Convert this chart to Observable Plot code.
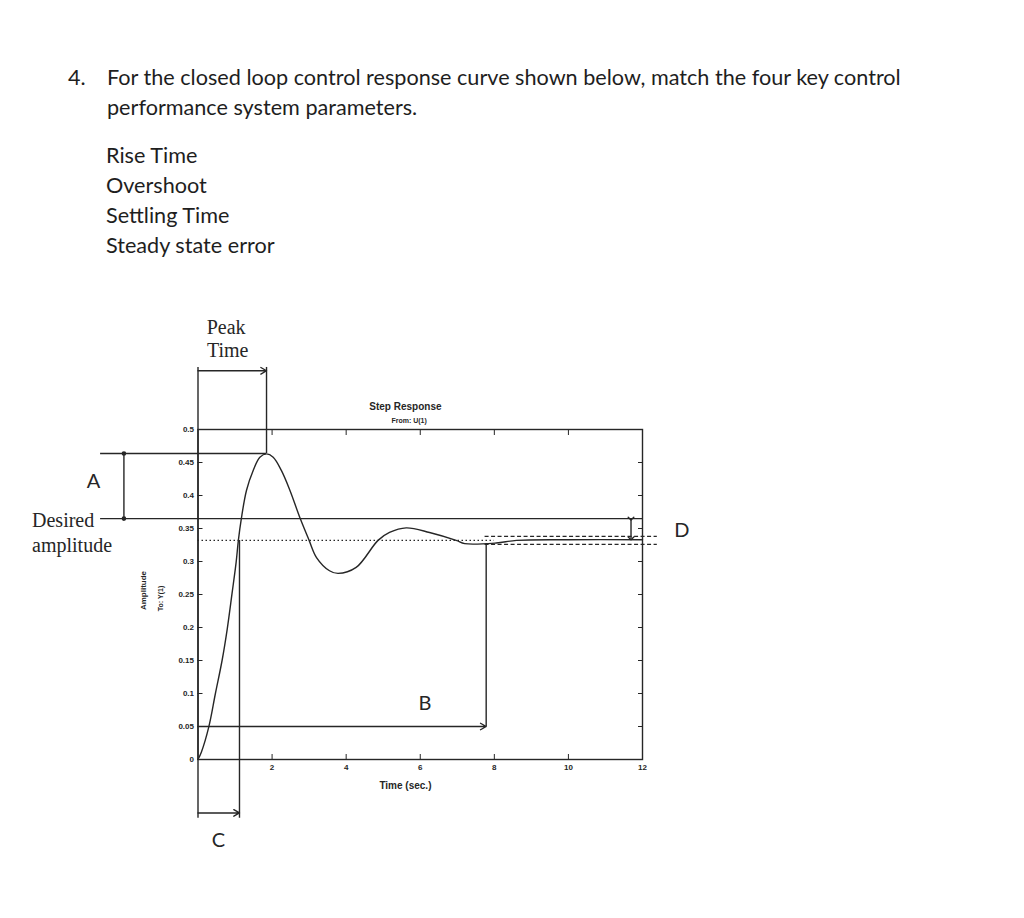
<!DOCTYPE html>
<html><head><meta charset="utf-8">
<script src="https://cdn.jsdelivr.net/npm/d3@7"></script>
<script src="https://cdn.jsdelivr.net/npm/@observablehq/plot@0.6"></script>
<style>
body{margin:0;background:#fff;}
#head{position:relative;width:1024px;height:290px;font-family:Lato,"Open Sans",sans-serif;color:#1e1e1e;}
#head div{position:absolute;white-space:nowrap;line-height:30px;}
#chart svg{display:block;}
</style></head><body>
<div id="head"></div>
<div id="chart"></div>
<script>
// ---- text content ----
const questionNumber = "4.";
const questionLines = [
  "For the closed loop control response curve shown below, match the four key control",
  "performance system parameters."
];
const parameterNames = ["Rise Time", "Overshoot", "Settling Time", "Steady state error"];

// ---- step response ----
const responseTime = [0, 0.09, 0.29, 0.47, 0.65, 0.79, 0.92, 1.03, 1.09, 1.17, 1.31, 1.49, 1.67, 1.85, 2.03, 2.25, 2.48, 2.76, 3.0, 3.2, 3.55, 3.78, 4.27, 4.86, 5.17, 5.62, 6.25, 6.97, 7.2, 8.05, 8.6, 10, 12];
const responseAmplitude = [0, 0.011, 0.049, 0.1, 0.15, 0.198, 0.252, 0.299, 0.332, 0.365, 0.408, 0.438, 0.458, 0.463, 0.458, 0.438, 0.408, 0.365, 0.332, 0.306, 0.286, 0.282, 0.291, 0.332, 0.344, 0.351, 0.344, 0.332, 0.327, 0.328, 0.332, 0.333, 0.333];

// ---- axis ticks ----
const yTicks = [0, 0.05, 0.1, 0.15, 0.2, 0.25, 0.3, 0.35, 0.4, 0.45, 0.5];
const yTickLabels = ["0", "0.05", "0.1", "0.15", "0.2", "0.25", "0.3", "0.35", "0.4", "0.45", "0.5"];
const xTicks = [2, 4, 6, 8, 10, 12];
const xTickLabels = ["2", "4", "6", "8", "10", "12"];

// ---- key values of the response ----
const peakTime = 1.85, peakValue = 0.4636;
const desiredValue = 0.365;
const steadyValue = 0.332;
const riseTime = 1.12;
const settlingTime = 7.78;
const bandUpper = 0.338, bandLower = 0.326;

// ---- labels ----
const titleText = "Step Response", subtitleText = "From: U(1)";
const xLabel = "Time (sec.)", yLabel = "Amplitude", yLabel2 = "To: Y(1)";

// ---------- header (HTML) ----------
const head = document.getElementById("head");
const ctx = document.createElement("canvas").getContext("2d");
ctx.font = "20px Lato";
const fs = 20 * 796 / ctx.measureText(questionLines[0]).width;
function addLine(txt, left, baseline) {
  const d = document.createElement("div");
  d.textContent = txt;
  d.style.fontSize = fs + "px";
  const top = baseline - ((30 - fs * 1.2) / 2 + fs * 0.987);
  d.style.left = left + "px";
  d.style.top = top + "px";
  head.appendChild(d);
}
addLine(questionNumber, 68, 85);
questionLines.forEach((t, i) => addLine(t, 107, 85 + 30 * i));
parameterNames.forEach((t, i) => addLine(t, 106, 163 + 30 * i));

// ---------- chart ----------
const response = responseTime.map((t, i) => ({t, v: responseAmplitude[i]}));
const ink = "#262626";
const serif = "Liberation Serif, DejaVu Serif, serif";
const sans = "Lato, Open Sans, sans-serif";
const tiny = "Liberation Sans, Arial, sans-serif";
const one = [0];

const chart = Plot.plot({
  width: 1024,
  height: 628,
  marginLeft: 197.5,
  marginRight: 382,
  marginTop: 139,
  marginBottom: 159,
  x: {domain: [0, 12], axis: null},
  y: {domain: [0, 0.5], axis: null},
  style: {background: "white", color: ink},
  marks: [
    Plot.frame({stroke: ink, strokeWidth: 1.4}),
    // axes (inward ticks)
    Plot.axisY(yTicks, {anchor: "left", tickSize: -5, tickPadding: 9, label: null, stroke: ink,
      tickFormat: d => yTickLabels[yTicks.indexOf(d)], fontSize: 8, fontWeight: "bold", fontFamily: tiny, fill: ink}),
    Plot.axisY(yTicks, {anchor: "right", tickSize: -5, label: null, stroke: ink, tickFormat: () => ""}),
    Plot.axisX(xTicks, {anchor: "bottom", tickSize: -5, tickPadding: 10, label: null, stroke: ink,
      tickFormat: d => xTickLabels[xTicks.indexOf(d)], fontSize: 8, fontWeight: "bold", fontFamily: tiny, fill: ink}),
    Plot.axisX(xTicks, {anchor: "top", tickSize: -5, label: null, stroke: ink, tickFormat: () => ""}),
    // titles / axis labels
    Plot.text(one, {x: 5.6, y: 0.535, text: () => titleText, fontSize: 10, fontWeight: "bold", fontFamily: tiny, fill: ink}),
    Plot.text(one, {x: 5.7, y: 0.514, text: () => subtitleText, fontSize: 7, fontWeight: "bold", fontFamily: tiny, fill: ink}),
    Plot.text(one, {x: 5.6, y: -0.0394, text: () => xLabel, fontSize: 10, fontWeight: "bold", fontFamily: tiny, fill: ink}),
    Plot.text(one, {x: -1.47, y: 0.256, text: () => yLabel, rotate: -90, fontSize: 8, fontWeight: "bold", fontFamily: tiny, fill: ink}),
    Plot.text(one, {x: -1.01, y: 0.244, text: () => yLabel2, rotate: -90, fontSize: 7, fontWeight: "bold", fontFamily: tiny, fill: ink}),
    // reference lines
    Plot.ruleY([steadyValue], {x1: 0, x2: 8.0, stroke: ink, strokeDasharray: "1.5,2.5", strokeWidth: 1.2}),
    Plot.ruleY([bandUpper, bandLower], {x1: 7.75, x2: 12.4, stroke: ink, strokeDasharray: "4,2.5", strokeWidth: 1.2}),
    Plot.ruleY([desiredValue], {x1: -2.63, x2: 12, stroke: ink, strokeWidth: 1.4}),
    Plot.ruleY([peakValue], {x1: -2.63, x2: peakTime, stroke: ink, strokeWidth: 1.4}),
    // response curve
    Plot.line(response, {x: "t", y: "v", curve: "catmull-rom", stroke: ink, strokeWidth: 1.4}),
    // peak time bracket
    Plot.ruleX([0], {y1: 0.594, y2: -0.089, stroke: ink, strokeWidth: 1.4}),
    Plot.ruleX([peakTime], {y1: 0.594, y2: peakValue, stroke: ink, strokeWidth: 1.4}),
    Plot.arrow(one, {x1: 0, x2: peakTime, y1: 0.589, y2: 0.589, stroke: ink, strokeWidth: 1.4, headLength: 7}),
    Plot.text(one, {x: 0.76, y: 0.6545, text: () => "Peak", fontSize: 20, fontFamily: serif, fill: ink}),
    Plot.text(one, {x: 0.8, y: 0.62, text: () => "Time", fontSize: 20, fontFamily: serif, fill: ink}),
    // A : overshoot
    Plot.link(one, {x1: -2.0, x2: -2.0, y1: desiredValue, y2: peakValue, stroke: ink, strokeWidth: 1.4, markerStart: "dot", markerEnd: "dot"}),
    Plot.text(one, {x: -2.82, y: 0.421, text: () => "A", fontSize: 20, fontFamily: sans, fill: ink}),
    Plot.text(one, {x: -4.48, y: 0.362, text: () => "Desired", textAnchor: "start", fontSize: 20, fontFamily: serif, fill: ink}),
    Plot.text(one, {x: -4.48, y: 0.324, text: () => "amplitude", textAnchor: "start", fontSize: 20, fontFamily: serif, fill: ink}),
    // B : settling time
    Plot.ruleX([settlingTime], {y1: 0.327, y2: 0.05, stroke: ink, strokeWidth: 1.4}),
    Plot.arrow(one, {x1: 0, x2: settlingTime, y1: 0.05, y2: 0.05, stroke: ink, strokeWidth: 1.4, headLength: 7}),
    Plot.text(one, {x: 6.13, y: 0.085, text: () => "B", fontSize: 20, fontFamily: sans, fill: ink}),
    // C : rise time
    Plot.ruleX([riseTime], {y1: steadyValue, y2: -0.089, stroke: ink, strokeWidth: 1.4}),
    Plot.arrow(one, {x1: 0, x2: riseTime, y1: -0.081, y2: -0.081, stroke: ink, strokeWidth: 1.4, headLength: 7}),
    Plot.text(one, {x: 0.55, y: -0.123, text: () => "C", fontSize: 20, fontFamily: sans, fill: ink}),
    // D : steady state error
    Plot.link(one, {x1: 11.69, x2: 11.69, y1: desiredValue, y2: 0.335, stroke: ink, strokeWidth: 1.4, markerStart: "arrow", markerEnd: "arrow"}),
    Plot.text(one, {x: 13.06, y: 0.347, text: () => "D", fontSize: 20, fontFamily: sans, fill: ink})
  ]
});
document.getElementById("chart").appendChild(chart);
</script>
</body></html>
